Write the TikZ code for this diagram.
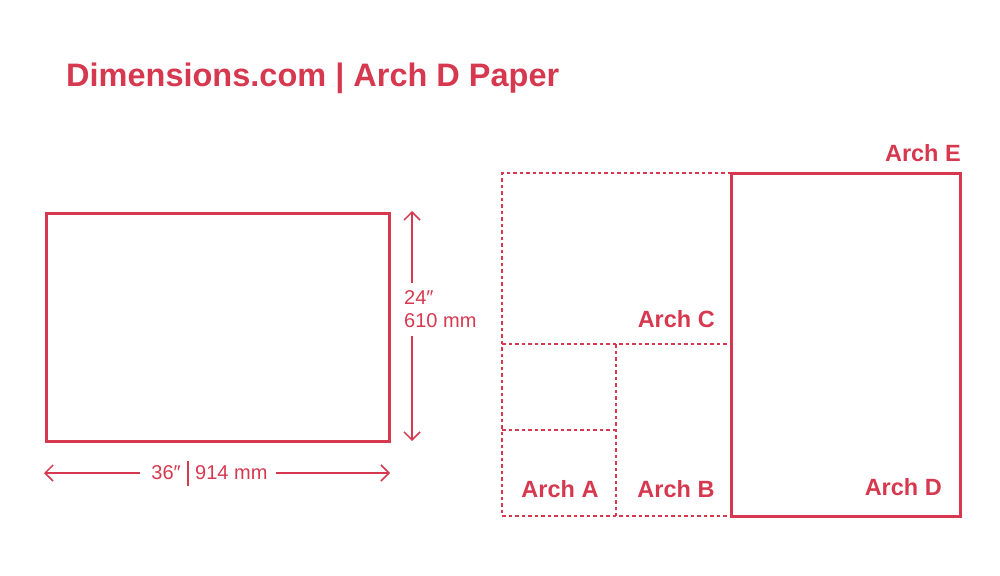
\documentclass[tikz,border=0pt]{standalone}
\usepackage{fontspec}
\setmainfont{Liberation Sans}
\usetikzlibrary{arrows.meta}
\definecolor{dimred}{RGB}{214,57,79}
\tikzset{
  paper/.style={draw=dimred, line width=3pt},
  dotbox/.style={draw=dimred, line width=2.2pt, dash pattern=on 3.5pt off 3pt},
  dimarrow/.style={draw=dimred, line width=1.5pt, -{Straight Barb[length=8pt,width=16pt]}},
  title/.style={text=dimred, font=\fontsize{32.5}{38}\selectfont\bfseries, inner sep=0pt},
  archlabel/.style={text=dimred, font=\fontsize{23.5}{27}\selectfont\bfseries, inner sep=0pt},
  dimlabel/.style={text=dimred, font=\fontsize{20}{23}\selectfont, inner sep=0pt}
}
\begin{document}
\begin{tikzpicture}[x=1pt,y=-1pt]
\useasboundingbox (0,0) rectangle (1000,575);
% title
\node[title, anchor=base west] (title) at (66,87) {Dimensions.com | Arch D Paper};
% left paper
\draw[paper] (46,213) rectangle (389,441);
% vertical dimension
\coordinate (vtop) at (412,211);
\coordinate (vbot) at (412,441);
\node[dimlabel, anchor=west, align=left] (vlab) at (404,309) {24″\\610 mm};
\coordinate (vgapT) at (412,283);
\coordinate (vgapB) at (412,336);
\draw[dimarrow] (vgapT) -- (vtop);
\draw[dimarrow] (vgapB) -- (vbot);
% horizontal dimension
\coordinate (hleft) at (44,473);
\coordinate (hright) at (390,473);
\node[dimlabel, anchor=east] (hl1) at (181,473) {36″};
\node[dimlabel, anchor=west] (hl2) at (195,473) {914 mm};
\coordinate (barT) at (188,461);
\coordinate (barB) at (188,486);
\draw[dimred, line width=1.2pt] (barT) -- (barB);
\coordinate (hgapL) at (140,473);
\coordinate (hgapR) at (276,473);
\draw[dimarrow] (hgapL) -- (hleft);
\draw[dimarrow] (hgapR) -- (hright);
% right: arch sizes
\draw[dotbox] (731,173) -- (502,173) -- (502,516) -- (731,516);
\draw[dotbox] (502,344) -- (731,344);
\draw[dotbox] (616,344) -- (616,516);
\draw[dotbox] (502,430) -- (616,430);
\draw[paper] (731,173) rectangle (960,516);
\node[archlabel, anchor=base east] (archE) at (961,161) {Arch E};
\node[archlabel, anchor=base east] (archC) at (715,327) {Arch C};
\node[archlabel, anchor=base] (archA) at (560,497) {Arch A};
\node[archlabel, anchor=base] (archB) at (676,497) {Arch B};
\node[archlabel, anchor=base east] (archD) at (942,495) {Arch D};
\end{tikzpicture}
\end{document}
